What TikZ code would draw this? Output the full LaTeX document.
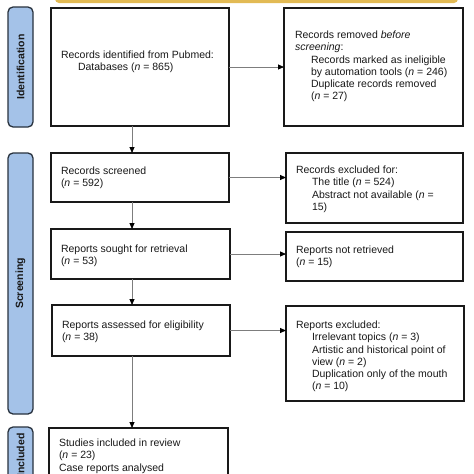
\documentclass[tikz,border=0pt]{standalone}
\usepackage{fontspec}
\setmainfont{Liberation Sans}
\usetikzlibrary{arrows.meta}
\definecolor{sideblue}{RGB}{164,194,232}
\definecolor{sideline}{RGB}{40,50,62}
\definecolor{goldbar}{RGB}{226,186,84}
\definecolor{arrowgray}{RGB}{125,125,125}
\definecolor{ink}{RGB}{25,25,25}
\begin{document}
\begin{tikzpicture}[x=1pt,y=-1pt,
  box/.style={draw=ink, line width=1.3pt, inner sep=0pt, outer sep=0pt, anchor=north west},
  side/.style={draw=sideline, fill=sideblue, line width=1.3pt, rounded corners=5pt, inner sep=0pt, outer sep=0pt, anchor=north west, minimum width=25pt},
  sidelab/.style={rotate=90, font=\fontsize{10.5}{12}\selectfont\bfseries, text=ink, inner sep=0pt},
  txt/.style={anchor=north west, align=left, inner sep=0pt, outer sep=0pt, text=ink, font=\fontsize{10.5}{12.2}\selectfont},
  arr/.style={draw=arrowgray, line width=0.8pt, -{Triangle[length=6pt,width=5pt,fill=black,color=black]}}]
\useasboundingbox (0,0) rectangle (474,474);
\clip (0,0) rectangle (474,474);
\fill[white] (0,0) rectangle (474,474);
% top bar
\fill[goldbar, rounded corners=4pt] (55,-20) rectangle (458,3);
% sidebars
\node[side, minimum height=120pt] (sid) at (8,7) {};
\node[side, minimum height=261pt] (sscr) at (8,153) {};
\node[side, minimum height=60pt] (sinc) at (8,427) {};
\node[sidelab] (lid) at (sid.center) {Identification};
\node[sidelab] (lscr) at (sscr.center) {Screening};
\node[sidelab] (linc) at (20.5,455) {Included};
% boxes
\node[box, minimum width=178pt, minimum height=118pt] (id1) at (51,8) {};
\node[box, minimum width=179pt, minimum height=118pt] (id2) at (284,8) {};
\node[box, minimum width=178pt, minimum height=49pt] (s1) at (51,153) {};
\node[box, minimum width=177pt, minimum height=70pt] (e1) at (286,153) {};
\node[box, minimum width=179pt, minimum height=50pt] (s2) at (51,229) {};
\node[box, minimum width=177pt, minimum height=49pt] (e2) at (286,232) {};
\node[box, minimum width=178pt, minimum height=51pt] (s3) at (52,305) {};
\node[box, minimum width=178pt, minimum height=95pt] (e3) at (286,306) {};
\node[box, minimum width=179pt, minimum height=80pt] (inc) at (49,428) {};
% texts
\node[txt] (tid1) at (61,50.5) {Records identified from Pubmed:\\\hspace*{17pt}Databases (\textit{n} = 865)};
\node[txt] (tid2) at (295,31) {Records removed \textit{before}\\\textit{screening}:\\\hspace*{16pt}Records marked as ineligible\\\hspace*{16pt}by automation tools (\textit{n} = 246)\\\hspace*{16pt}Duplicate records removed\\\hspace*{16pt}(\textit{n} = 27)};
\node[txt] (ts1) at (61,167) {Records screened\\(\textit{n} = 592)};
\node[txt] (te1) at (296,166) {Records excluded for:\\\hspace*{16pt}The title (\textit{n} = 524)\\\hspace*{16pt}Abstract not available (\textit{n} =\\\hspace*{16pt}15)};
\node[txt] (ts2) at (61,245) {Reports sought for retrieval\\(\textit{n} = 53)};
\node[txt] (te2) at (296,246) {Reports not retrieved\\(\textit{n} = 15)};
\node[txt] (ts3) at (62,321) {Reports assessed for eligibility\\(\textit{n} = 38)};
\node[txt] (te3) at (296,321) {Reports excluded:\\\hspace*{16pt}Irrelevant topics (\textit{n} = 3)\\\hspace*{16pt}Artistic and historical point of\\\hspace*{16pt}view (\textit{n} = 2)\\\hspace*{16pt}Duplication only of the mouth\\\hspace*{16pt}(\textit{n} = 10)};
\node[txt] (tinc) at (59,439) {Studies included in review\\(\textit{n} = 23)\\Case reports analysed};
% connectors
\coordinate (vx) at (132,0);
\draw[arr] (id1.east) -- (id1.east -| id2.west);
\draw[arr] (s1.east) -- (s1.east -| e1.west);
\draw[arr] (s2.east) -- (s2.east -| e2.west);
\draw[arr] (s3.east) -- (s3.east -| e3.west);
\draw[arr] (id1.south -| vx) -- (s1.north -| vx);
\draw[arr] (s1.south -| vx) -- (s2.north -| vx);
\draw[arr] (s2.south -| vx) -- (s3.north -| vx);
\draw[arr] (s3.south -| vx) -- (inc.north -| vx);
\end{tikzpicture}
\end{document}
